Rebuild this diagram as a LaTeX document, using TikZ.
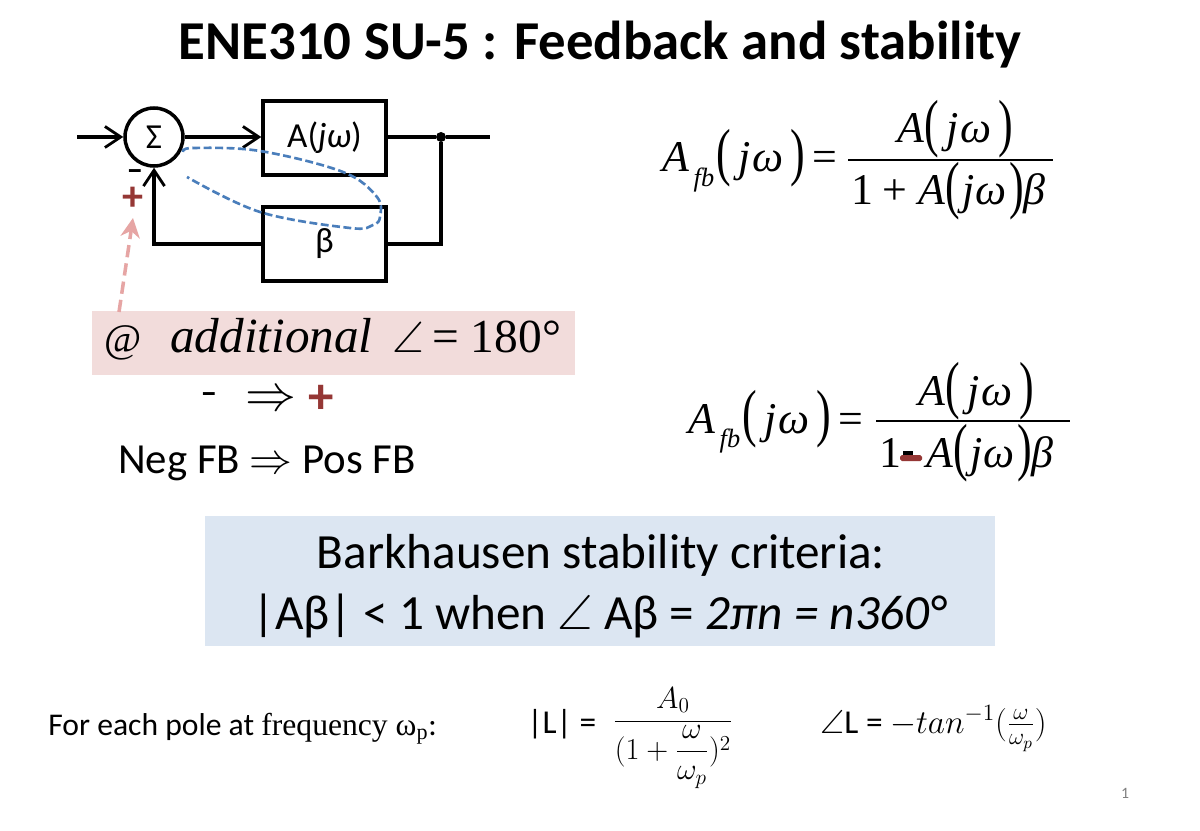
\documentclass[tikz,border=0pt]{standalone}
\usepackage{fix-cm}
\usepackage{amsmath}
\usepackage{amssymb}
\usepackage{fontspec}
\setmainfont{Carlito}
\newfontfamily\eqfamily{Liberation Serif}
\usetikzlibrary{arrows.meta}
\definecolor{loopblue}{HTML}{4A7EBB}
\definecolor{darkplus}{HTML}{953735}
\definecolor{softred}{HTML}{E6A5A4}
\definecolor{pinkfill}{HTML}{F2DCDB}
\definecolor{bluefill}{HTML}{DCE6F2}
\newcommand{\tallparen}[1]{\raisebox{-.03em}{\scalebox{1}[1.45]{#1}}}
\newcommand{\jwinner}{\tallparen{(}\,\textit{j\hspace{.04em}ω}\,\tallparen{)}}
\newcommand{\jwtight}{\tallparen{(}\hspace{.06em}\textit{j\hspace{.02em}ω}\hspace{.06em}\tallparen{)}}
\newcommand{\afb}{\textit{A}\hspace{.1em}\raisebox{-.32em}{\fontsize{15}{15}\selectfont\textit{fb}}\hspace{.05em}\jwinner}
\tikzset{
    sigline/.style={line width=1.8pt,black},
    sigarrow/.style={sigline,-{Straight Barb[length=9pt,width=12pt,line width=1.6pt]}},
    blockbox/.style={draw,line width=2pt,minimum width=2.46cm,minimum height=1.48cm,inner sep=0pt,font=\fontsize{20}{20}\selectfont},
    eqnode/.style={anchor=base west,inner sep=0pt,font=\eqfamily\fontsize{25}{25}\selectfont},
    fracbar/.style={line width=1.3pt,black},
    plusmark/.style={inner sep=0pt,text=darkplus,font=\bfseries\fontsize{24}{24}\selectfont},
    minusmark/.style={inner sep=0pt,font=\bfseries\fontsize{19}{19}\selectfont},
    textline/.style={inner sep=0pt,anchor=base,font=\fontsize{28}{28}\selectfont}
}
\begin{document}
\begin{tikzpicture}[x=0.02cm,y=-0.02cm]
            \useasboundingbox (0,0) rectangle (1200,831);
            \fill[white] (0,0) rectangle (1200,831);
            \node[anchor=base,inner sep=0pt,font=\bfseries\fontsize{31.2}{31.2}\selectfont] (title) at (600,60) {ENE310 SU-5 : Feedback and stability};
            % block diagram
            \node[draw,circle,line width=2pt,minimum size=1.16cm,inner sep=0pt,font=\fontsize{20}{20}\selectfont] (sum) at (154,137) {Σ};
            \node[blockbox] (abox) at (324.5,138) {A(\textit{jω})};
            \node[blockbox] (bbox) at (324.5,244) {β};
            \coordinate (inp) at (77,137);
            \coordinate (outp) at (490,137);
            \node[circle,fill=black,inner sep=0pt,minimum size=.2cm] (tap) at (441,137) {};
            \draw[sigarrow] (inp) -- (sum);
            \draw[sigarrow] (sum) -- (abox.west |- sum);
            \draw[sigline] (abox.east |- tap) -- (tap) -- (outp);
            \draw[sigline] (tap) |- (bbox);
            \draw[sigarrow] (bbox) -| (sum);
            \node[minusmark] (minus1) at (135,175) {–};
            \node[plusmark] (plus1) at (133,199) {+};
            % loop path
            \draw[loopblue,line width=1.5pt,dashed,dash pattern=on 4.5pt off 2pt] plot[smooth,tension=.6] coordinates {(183,152) (193,148) (260,151) (343,172) (377,197) (380,217) (373,225) (350,228) (260,212) (187,177)};
            % the added phase
            \node[fill=pinkfill,minimum width=9.66cm,minimum height=1.28cm,inner sep=0pt] (addbox) at (333.5,343) {};
            \node[eqnode,font=\eqfamily\fontsize{23}{23}\selectfont] (addat) at (104,352) {@};
            \node[eqnode,font=\eqfamily\fontsize{28}{28}\selectfont] (addword) at (170,352) {\textit{additional}};
            \node[eqnode] (addangle) at (392,352) {$\angle$};
            \node[eqnode,font=\eqfamily\fontsize{27}{27}\selectfont] (addval) at (432,352) {= 180°};
            \coordinate (addtail) at (119,312);
            \coordinate (addtip) at (133,218);
            \draw[softred,line width=2pt,dashed,dash pattern=on 7pt off 3.5pt,-{Stealth[length=11pt,width=11pt]}] (addtail) -- (addtip);
            \node[minusmark] (minus2) at (209,398) {–};
            \node[inner sep=0pt] (imp1) at (271,401) {\fontsize{29}{29}\selectfont$\Rightarrow$};
            \node[plusmark,font=\bfseries\fontsize{29}{29}\selectfont] (plus2) at (321,399) {+};
            \node[textline,font=\fontsize{24.4}{24.4}\selectfont] (negpos) at (267,473) {Neg FB $\Rightarrow$ Pos FB};
            % closed loop gain
            \node[eqnode] (gain1) at (662,172) {\afb\,=};
            \coordinate (bar1l) at (848,160);
            \coordinate (bar1r) at (1053,160);
            \draw[fracbar] (bar1l) -- (bar1r);
            \node[eqnode] (num1) at (897,143) {\textit{A}\jwinner};
            \node[eqnode] (den1) at (851,205) {1\hspace{-.04em} + \textit{A}\jwtight\textit{β}};
            \node[eqnode] (gain2) at (688,433) {\afb\,=};
            \coordinate (bar2l) at (876,421);
            \coordinate (bar2r) at (1070,421);
            \draw[fracbar] (bar2l) -- (bar2r);
            \node[eqnode] (num2) at (918,405) {\textit{A}\jwinner};
            \node[eqnode] (den2a) at (879,467) {1};
            \node[eqnode] (den2b) at (926,467) {\textit{A}\jwtight\textit{β}};
            \node[inner sep=0pt,minimum width=.2cm,minimum height=.1cm,fill=black] (minus3) at (908,453) {};
            \node[inner sep=0pt,minimum width=.44cm,minimum height=.12cm,fill=darkplus,rounded corners=1pt] (minus4) at (911,458) {};
            % criteria
            \node[fill=bluefill,minimum width=15.8cm,minimum height=2.6cm,inner sep=0pt] (critbox) at (600,581) {};
            \node[textline] (crit1) at (601,568) {Barkhausen stability criteria:};
            \node[textline] (crit2) at (600,629) {|Aβ| < 1 when $\angle$ Aβ = \textit{2πn = n360°}};
            % single pole
            \node[anchor=base west,inner sep=0pt,font=\fontsize{18}{18}\selectfont] (polenote) at (48,735) {For each pole at {\eqfamily frequency ω\textsubscript{p}}:};
            \node[anchor=base west,inner sep=0pt,font=\fontsize{19}{19}\selectfont] (magl) at (527,733) {|L| =};
            \node[inner sep=0pt,font=\fontsize{17.3}{17.3}\selectfont] (magfrac) at (673,738) {$\displaystyle\frac{A_0}{(1+\dfrac{\omega}{\omega_p})^2}$};
            \node[anchor=base west,inner sep=0pt,font=\fontsize{19}{19}\selectfont] (phl) at (820,733) {$\angle$L = $-tan^{-1}(\frac{\omega}{\omega_p})$};
            \node[inner sep=0pt,text=gray,font=\fontsize{9}{9}\selectfont] (pagenum) at (1125,793) {1};
        \end{tikzpicture}
\end{document}
